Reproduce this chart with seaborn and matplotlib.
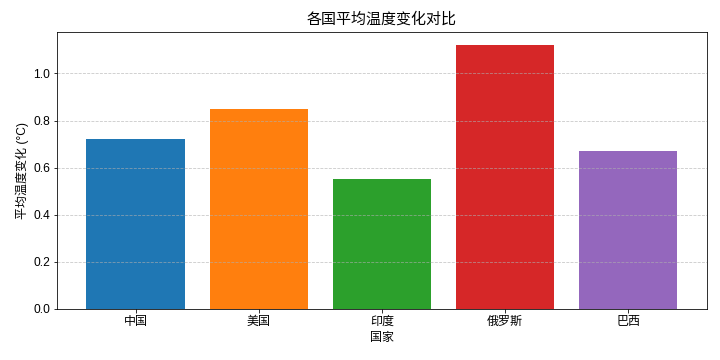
import matplotlib
matplotlib.use("Agg")
import matplotlib.pyplot as plt
import seaborn as sns
import pandas as pd

plt.rcParams['font.family'] = ['Liberation Sans', 'Noto Sans CJK SC', 'DejaVu Sans']
plt.rcParams['axes.unicode_minus'] = False

countries = ["中国", "美国", "印度", "俄罗斯", "巴西"]
temp_change = [0.72, 0.85, 0.55, 1.12, 0.67]
colors = ["#1f77b4", "#ff7f0e", "#2ca02c", "#d62728", "#9467bd"]

df = pd.DataFrame({"国家": countries, "变化": temp_change})

fig, ax = plt.subplots(figsize=(10, 5), dpi=72)
sns.barplot(data=df, x="国家", y="变化", hue="国家", palette=colors,
            saturation=1, width=0.8, legend=False, ax=ax)
ax.set_xlim(-0.64, 4.64)
ax.set_ylim(0, 1.176)
ax.set_title("各国平均温度变化对比", fontsize=15, pad=8)
ax.set_xlabel("国家", fontsize=12, labelpad=4)
ax.set_ylabel("平均温度变化 (°C)", fontsize=12)
ax.tick_params(labelsize=12)
ax.grid(axis="y", linestyle="--", alpha=0.7)
fig.subplots_adjust(left=0.079, right=0.982, top=0.911, bottom=0.142)
plt.savefig("out.png", dpi=72)
